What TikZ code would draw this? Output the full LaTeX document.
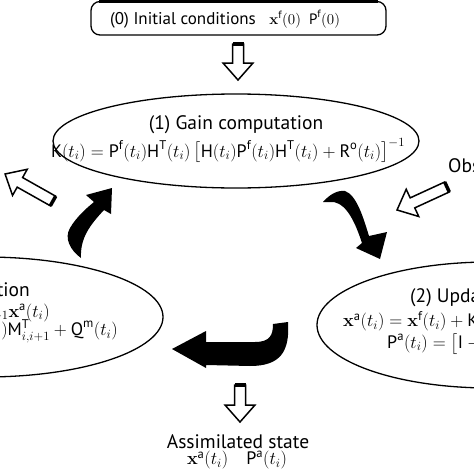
\RequirePackage{fix-cm}
\documentclass[tikz,border=0pt]{standalone}
\usepackage{amsmath}
\usepackage[no-math]{fontspec}
\setmainfont{PT Sans}
\newfontfamily\ptsans{PT Sans}
\usetikzlibrary{shapes.geometric}
\newcommand\msf[1]{\text{\ptsans #1}}
\newcommand\bx{\mathbf{x}}
\tikzset{
  outline/.style={draw=black, line width=1.3pt},
  oval/.style={outline, ellipse, inner sep=0pt},
  title/.style={font=\fontsize{19.5}{23}\selectfont, inner sep=0pt},
  boxtitle/.style={font=\fontsize{17}{20}\selectfont, inner sep=0pt},
  eq/.style={font=\fontsize{18}{21}\selectfont, inner sep=0pt},
  hollow/.style={draw=black, fill=white, line width=1.5pt, line join=miter},
  solid arrow/.style={fill=black},
  pics/harrow/.style={code={
    \draw[hollow] (0,-5.5) -- (#1-17,-5.5) -- (#1-17,-15) -- (#1,0) -- (#1-17,15) -- (#1-17,5.5) -- (0,5.5) -- cycle;
    \draw[line width=3.5pt] (0,-5.5) -- (0,5.5);
  }}
}
\begin{document}
\begin{tikzpicture}[x=1pt, y=-1pt]
\useasboundingbox (0,0) rectangle (474,474);
\clip (0,0) rectangle (474,474);
\fill[white] (0,0) rectangle (474,474);

% (0) initial conditions box
\draw[outline, rounded corners=9pt] (91,1.5) rectangle (386,35);
\draw[line width=3pt] (99,1.5) -- (378,1.5);
\node[boxtitle, anchor=west] (init) at (110,19) {(0) Initial conditions\ \ \ {\fontsize{15}{18}\selectfont$\bx^{\msf{f}}(0)\ \ \msf{P}^{\msf{f}}(0)$}};
\pic[rotate=270] at (238,44) {harrow=36};

% (1) gain computation
\node[oval, minimum width=366pt, minimum height=94pt] (gain) at (236,141) {};
\node[title] (gaint) at (236,125) {(1) Gain computation};
\node[eq] (gaine) at (228,151) {$\msf{K}(t_i) = \msf{P}^{\msf{f}}(t_i)\msf{H}^{\msf{T}}(t_i)\,\bigl[\msf{H}(t_i)\msf{P}^{\msf{f}}(t_i)\msf{H}^{\msf{T}}(t_i) + \msf{R}^{\msf{o}}(t_i)\bigr]^{-1}$};

% observations
\node[title, anchor=west] (obs) at (448,166) {Observations};
\pic[rotate=204.7] at (447,187) {harrow=55};

% left hollow arrow
\pic[rotate=150.6] at (53,201) {harrow=55};

% (2) update
\node[oval, minimum width=346pt, minimum height=126pt] (upd) at (490,325) {};
\node[title, anchor=west] (updt) at (410,298) {(2) Update};
\node[eq, anchor=west] (upde1) at (343,322) {$\bx^{\msf{a}}(t_i) = \bx^{\msf{f}}(t_i) + \msf{K}(t_i)\bigl[\mathbf{y}^{\msf{o}}(t_i) - \msf{H}(t_i)\bx^{\msf{f}}(t_i)\bigr]$};
\node[eq, anchor=west] (upde2) at (387,343) {$\msf{P}^{\msf{a}}(t_i) = \bigl[\msf{I} - \msf{K}(t_i)\msf{H}(t_i)\bigr]\msf{P}^{\msf{f}}(t_i)$};

% (3) forecast
\node[oval, minimum width=356pt, minimum height=120pt] (fc) at (-15,317) {};
\node[title, anchor=east] (fct) at (30,292) {(3) Forecast propagation};
\node[eq, anchor=east] (fce1) at (50,312) {$\bx^{\msf{f}}(t_{i+1}) = \msf{M}_{i,i+1}\bx^{\msf{a}}(t_i)$};
\node[eq, anchor=east] (fce2) at (118,331) {$\msf{P}^{\msf{f}}(t_{i+1}) = \msf{M}_{i,i+1}\msf{P}^{\msf{a}}(t_i)\msf{M}^{\msf{T}}_{i,i+1} + \msf{Q}^{\msf{m}}(t_i)$};

% assimilated state
\pic[rotate=270] at (240,385) {harrow=37};
\node[title] (asst) at (238,442) {Assimilated state};
\node[eq] (asse) at (237,460) {$\bx^{\msf{a}}(t_i)\quad\msf{P}^{\msf{a}}(t_i)$};

% solid cycle arrows
% (3) -> (1)
\fill[solid arrow] (112,188) -- (111,214) -- (104,210)
  .. controls (90,225) and (80,238) .. (81,258)
  .. controls (70,250) and (64,238) .. (70,228)
  .. controls (77,216) and (88,207) .. (94,202) -- (86,195) -- cycle;
% (1) -> (2)
\fill[solid arrow] (323,202) .. controls (330,194) and (338,190) .. (345,191)
  .. controls (357,195) and (364,220) .. (369,236) -- (387,232) -- (380,259)
  -- (356,248) -- (362,243) .. controls (356,225) and (348,205) .. (334,202) -- cycle;
% (2) -> (3)
\fill[solid arrow] (172,349) -- (206,331) -- (206,342) -- (255,342)
  .. controls (270,342) and (273,335) .. (273,324) -- (288,322)
  .. controls (290,352) and (280,366) .. (250,366) -- (206,365) -- (206,368) -- cycle;
\end{tikzpicture}
\end{document}
